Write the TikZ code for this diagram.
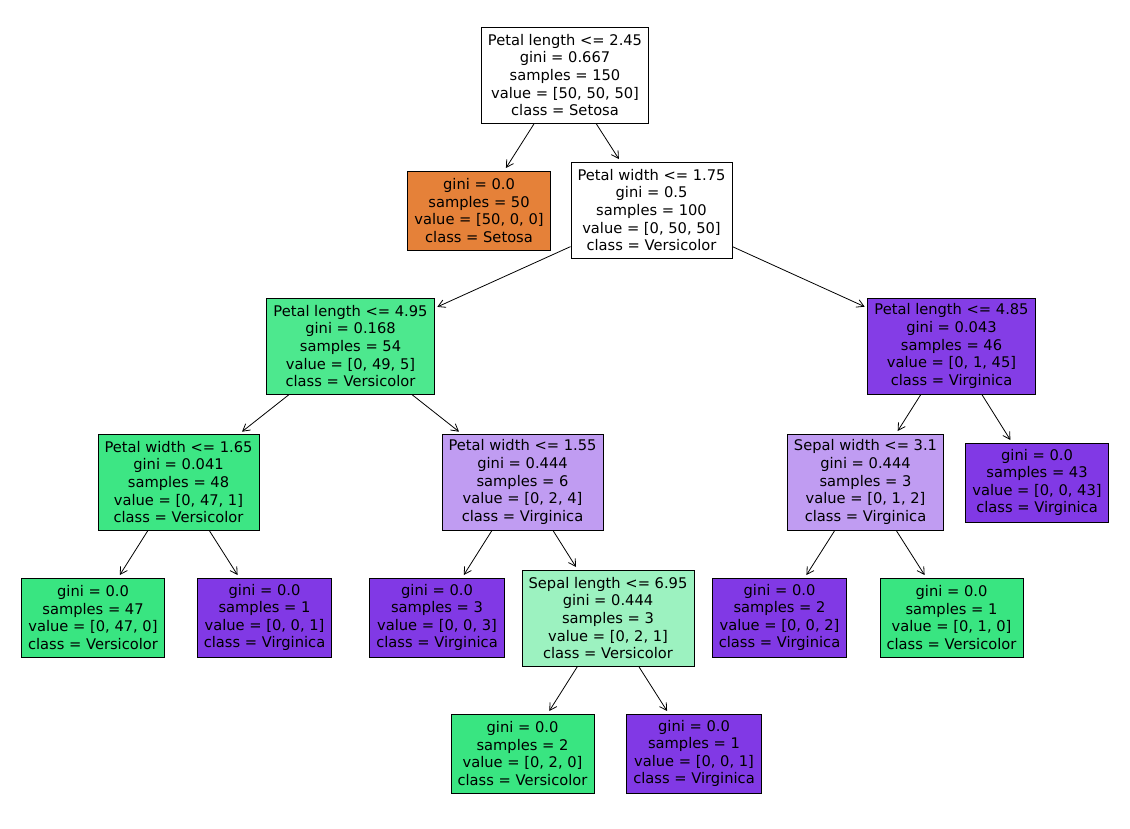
\documentclass[tikz,border=0pt]{standalone}
\usepackage{fontspec}
\setmainfont{DejaVu Sans}
\usetikzlibrary{arrows.meta}
\definecolor{cSet}{RGB}{229,129,57}
\definecolor{cVer}{RGB}{57,229,129}
\definecolor{cVir}{RGB}{129,57,229}
\definecolor{cVerA}{RGB}{77,232,142}
\definecolor{cVerB}{RGB}{61,230,132}
\definecolor{cVerC}{RGB}{156,242,192}
\definecolor{cVirA}{RGB}{132,61,230}
\definecolor{cVirC}{RGB}{192,156,242}
\begin{document}
\begin{tikzpicture}[x=1pt,y=-1pt,
  tn/.style={draw=black,line width=0.9pt,align=center,text=black,
    font=\fontsize{14.67}{17.6}\selectfont,inner xsep=6.6pt,inner ysep=2pt},
  split/.style={tn,minimum height=96pt},
  leaf/.style={tn,minimum height=79pt},
  edge/.style={draw=black,line width=0.8pt,-{Straight Barb[length=7pt,width=8pt]},shorten >=3pt}]
\useasboundingbox (0,0) rectangle (1130,829);
\fill[white] (0,0) rectangle (1130,829);

\node[split,fill=white] (n0) at (565,75) {Petal length <= 2.45\\gini = 0.667\\samples = 150\\value = [50, 50, 50]\\class = Setosa};
\node[leaf,fill=cSet] (n1) at (479,210.5) {gini = 0.0\\samples = 50\\value = [50, 0, 0]\\class = Setosa};
\node[split,fill=white] (n2) at (651.5,210) {Petal width <= 1.75\\gini = 0.5\\samples = 100\\value = [0, 50, 50]\\class = Versicolor};
\node[split,fill=cVerA] (n3) at (350.5,346) {Petal length <= 4.95\\gini = 0.168\\samples = 54\\value = [0, 49, 5]\\class = Versicolor};
\node[split,fill=cVirA] (n4) at (951.5,346) {Petal length <= 4.85\\gini = 0.043\\samples = 46\\value = [0, 1, 45]\\class = Virginica};
\node[split,fill=cVerB] (n5) at (178.5,482) {Petal width <= 1.65\\gini = 0.041\\samples = 48\\value = [0, 47, 1]\\class = Versicolor};
\node[split,fill=cVirC] (n6) at (522.5,482) {Petal width <= 1.55\\gini = 0.444\\samples = 6\\value = [0, 2, 4]\\class = Virginica};
\node[split,fill=cVirC] (n7) at (865.5,482) {Sepal width <= 3.1\\gini = 0.444\\samples = 3\\value = [0, 1, 2]\\class = Virginica};
\node[leaf,fill=cVir] (n8) at (1037,482.5) {gini = 0.0\\samples = 43\\value = [0, 0, 43]\\class = Virginica};
\node[leaf,fill=cVer] (n9) at (93,617.5) {gini = 0.0\\samples = 47\\value = [0, 47, 0]\\class = Versicolor};
\node[leaf,fill=cVir] (n10) at (264.5,617.5) {gini = 0.0\\samples = 1\\value = [0, 0, 1]\\class = Virginica};
\node[leaf,fill=cVir] (n11) at (437,617.5) {gini = 0.0\\samples = 3\\value = [0, 0, 3]\\class = Virginica};
\node[split,fill=cVerC] (n12) at (608,618) {Sepal length <= 6.95\\gini = 0.444\\samples = 3\\value = [0, 2, 1]\\class = Versicolor};
\node[leaf,fill=cVir] (n13) at (779.5,617.5) {gini = 0.0\\samples = 2\\value = [0, 0, 2]\\class = Virginica};
\node[leaf,fill=cVer] (n14) at (951.5,617.5) {gini = 0.0\\samples = 1\\value = [0, 1, 0]\\class = Versicolor};
\node[leaf,fill=cVer] (n15) at (522.5,753.5) {gini = 0.0\\samples = 2\\value = [0, 2, 0]\\class = Versicolor};
\node[leaf,fill=cVir] (n16) at (694,753.5) {gini = 0.0\\samples = 1\\value = [0, 0, 1]\\class = Virginica};

\draw[edge] (n0) -- (n1);
\draw[edge] (n0) -- (n2);
\draw[edge] (n2) -- (n3);
\draw[edge] (n2) -- (n4);
\draw[edge] (n3) -- (n5);
\draw[edge] (n3) -- (n6);
\draw[edge] (n4) -- (n7);
\draw[edge] (n4) -- (n8);
\draw[edge] (n5) -- (n9);
\draw[edge] (n5) -- (n10);
\draw[edge] (n6) -- (n11);
\draw[edge] (n6) -- (n12);
\draw[edge] (n7) -- (n13);
\draw[edge] (n7) -- (n14);
\draw[edge] (n12) -- (n15);
\draw[edge] (n12) -- (n16);
\end{tikzpicture}
\end{document}
